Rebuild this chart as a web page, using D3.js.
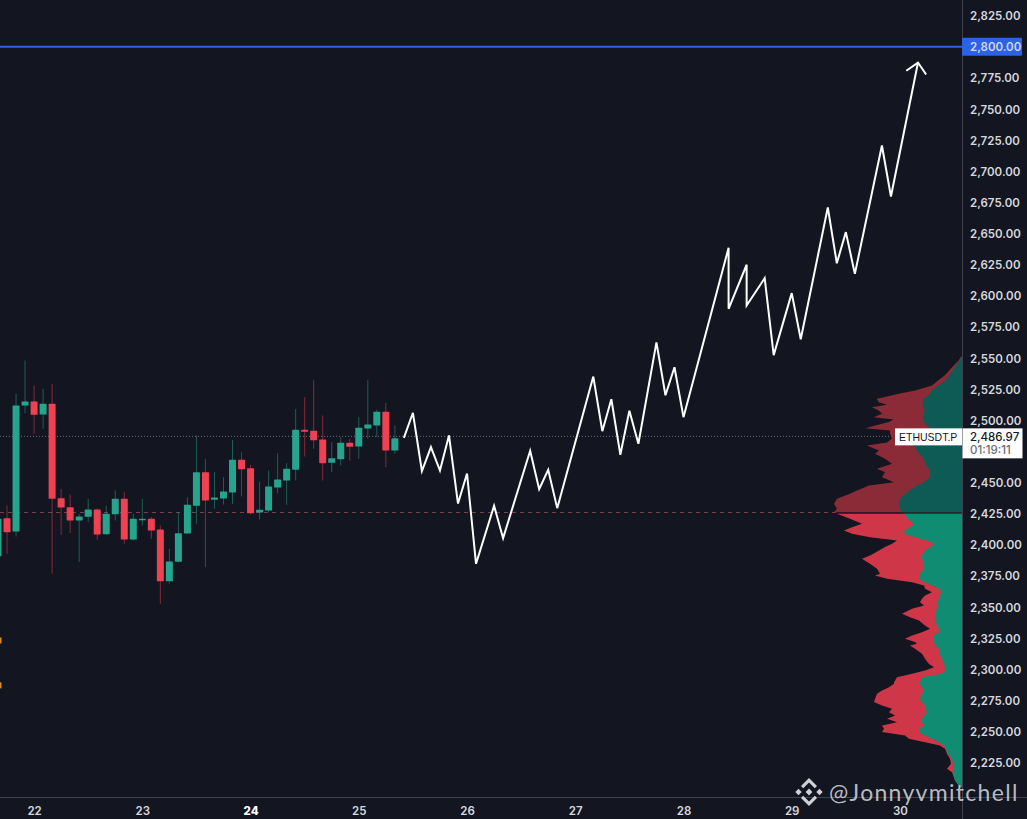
<!DOCTYPE html>
<html><head><meta charset="utf-8">
<script src="https://d3js.org/d3.v7.min.js"></script>
<style>
html,body{margin:0;padding:0;background:#131621;overflow:hidden}
svg{display:block}
text{font-family:Inter,"Liberation Sans",sans-serif}
</style></head><body>
<svg id="c" width="1027" height="819"></svg>
<script>
// Candles: one per 2 hours, bar 0 is the first bar at the left edge
const candleOpen=[2390.7,2421.2,2410.5,2511.7,2515,2504.5,2513.1,2437.3,2430,2419.4,2422.4,2428.2,2408.4,2424.4,2436.8,2404.1,2420.2,2420.7,2412.2,2370.6,2386.2,2409,2431.2,2458.2,2436,2437,2441.9,2468.1,2461.4,2425.8,2427.4,2445.9,2451.5,2460.1,2492.2,2491.4,2484.4,2465.7,2468.6,2481.8,2478.8,2493.3,2495.7,2506.7,2475.6];
const candleHigh=[2425,2431.4,2521.1,2547.9,2527.8,2525.2,2529.2,2444.8,2440.3,2424.8,2436.8,2429,2431.4,2443.5,2442.1,2424.8,2436.8,2422,2415.4,2396.6,2426,2438,2487.7,2469,2458.2,2454.2,2484.2,2474.2,2464.1,2450.7,2459.5,2473.4,2465.4,2509,2518.4,2532.4,2503.7,2482.3,2486.3,2485,2502.4,2532.4,2508.3,2513.9,2495.7];
const candleLow=[2384.8,2392.6,2406.5,2505.6,2489,2493,2376.8,2407.9,2409.2,2385.9,2418,2403.9,2407.9,2419.4,2400.7,2403.3,2415.4,2404.7,2352.5,2368.5,2385.7,2408.7,2416.7,2381.9,2428.8,2432.2,2432.8,2438.7,2424.2,2420.2,2426,2441.3,2432,2451.5,2470.8,2477,2451.5,2458.2,2463.6,2467.6,2469,2485,2486.3,2462.2,2473];
const candleClose=[2420.7,2410,2511.7,2515,2504.3,2513.1,2436.8,2429.8,2419.4,2422.6,2428.2,2408.1,2424.8,2436.8,2404.1,2420.7,2420.7,2411.3,2370.6,2386.5,2409.2,2432,2458.2,2435.4,2437.9,2442.7,2468.1,2460.6,2425.2,2428,2446.7,2452.3,2460.9,2492.2,2490.6,2483.9,2465.4,2469.4,2481.8,2478.6,2493.9,2496.5,2506.7,2475.6,2485.5];

// Hand-drawn projection
const projBars=[45,46,47,48,49,50,51,52,53,55,56,59,60,61,62,66,67,68,69,70,71,73,74,75,76,81,81,83,83,85,86,88,89,92,93,94,95,98,99,102];
const projPrice=[2485.8,2505.9,2459,2478.3,2459.5,2487.7,2433,2457.1,2384.6,2431.2,2405.2,2475.4,2444.5,2460.1,2429.3,2535,2491.1,2516.8,2472.2,2507.5,2481,2562.4,2520,2542.5,2502.4,2638.4,2589.4,2624.8,2592.1,2614,2552.2,2602,2565,2670.8,2626,2651,2617.5,2720.6,2679.6,2787.2];
const arrowBars=[100.7,102,102.9];
const arrowPrice=[2780.6,2787.2,2777.6];

// Volume profile rows
const vpPrice=[2551,2547.9,2543.9,2539.9,2535.8,2531.8,2527.8,2523.8,2521.1,2518.4,2517.1,2514.4,2512.3,2510.4,2507.7,2505.1,2502.4,2500.5,2498.4,2495.7,2493.5,2491.7,2489.3,2485.3,2482,2479.6,2475.6,2472.9,2468.9,2464.9,2460.9,2458.2,2454.2,2450.2,2447.5,2443.5,2440.8,2436.8,2432.8,2428.8,2426,2424.8,2420.7,2416.7,2414,2411.3,2408.7,2406,2403.3,2400.7,2398,2395.3,2391.3,2388.6,2384.6,2380.6,2376.6,2375.2,2372.5,2369.8,2367.2,2364.5,2361.8,2359.1,2356.5,2353.8,2351.1,2348.4,2345.7,2344.4,2341.7,2339,2335,2332.4,2329.7,2327,2324.3,2321.7,2320.3,2319,2316.3,2312.3,2308.3,2304.2,2301.6,2298.9,2296.2,2293.5,2289.5,2288.2,2285.5,2282.8,2280.2,2276.1,2273.5,2270.8,2268.1,2265.4,2262.8,2260.1,2257.4,2254.7,2252.1,2249.4,2246.7,2244,2241.3,2238.7,2236,2232,2228,2224,2220,2217.2,2210.5,2205.2];
const vpTotal=[1,3.3,8.3,12.7,17.3,24,30,46.7,63.3,78.3,85,83.3,75,90,83.3,80,88.3,68.3,73.3,86.7,96.7,72,72,70,75,95,83,87,77,70,85,77,80,68,93,105,112,125,128,125,128,125,112,100,110,118,110,92,65,70,77,83,92,100,92,85,82,87,75,50,38,37,30,37,40,42,38,50,57,60,52,43,37,32,40,50,57,47,45,52,47,40,37,33,28,37,50,65,68,68,73,80,85,87,88,80,70,73,67,75,65,80,78,80,57,53,37,22,17,15,12,11,15,10,7,2];
const vpGreen=[1,2.3,6,9.3,12.7,16.7,23.3,30.7,31.7,36.7,38.3,39.3,39.3,38.3,37.3,38.3,39.3,38.3,38.3,35,31.7,30.7,33,40,45,48,45,43,38,37,33,32,32,38,45,52,57,62,63,62,60,58,54,48,52,57,58,47,35,27,32,37,40,40,38,38,42,42,43,37,30,22,21,22,23,25,25,25,27,27,27,27,25,23,23,28,28,28,27,27,23,23,20,18,17,17,20,40,42,42,40,38,40,42,40,37,37,35,38,40,40,38,42,43,37,30,23,18,16,14,10,9,8,9,7,2];

// 2,475.00 sits behind the last-price box in the reference, so it is not listed
const priceTicks=[2225,2250,2275,2300,2325,2350,2375,2400,2425,2450,2500,2525,2550,2575,2600,2625,2650,2675,2700,2725,2750,2775,2800,2825];
const dayBars=[4,16,28,40,52,64,76,88,100];
const dayLabels=["22","23","24","25","26","27","28","29","30"];
const targetLevel=2800, lastPrice=2486.97, pocLevel=2425.8;
const edgeMarkPrice=[2323,2287];
const symbolName="ETHUSDT.P", countdown="01:19:11", handle="@Jonnyvmitchell";

const C={bg:"#131621",up:"#27a48d",down:"#ee4152",grid:"#3f424e",txt:"#d6d8de",
 vpUp:"#0f8c72",vpDown:"#cf3648",vpUpDim:"#0e5b55",vpDownDim:"#8b2b37",blue:"#2c62e6"};
const plotR=962, axisY=797;

const svg=d3.select("#c");
const x=d3.scaleLinear().domain([0,102]).range([-2,918]);
const y=d3.scaleLinear().domain([2825,2225]).range([15.5,762.5]);
const vw=d3.scaleLinear().domain([0,130]).range([plotR,plotR-130]);

// reference lines
const pl=svg.append("g");
pl.append("line").attr("x1",0).attr("x2",plotR).attr("y1",y(lastPrice)).attr("y2",y(lastPrice))
  .attr("stroke","#6b6d75").attr("stroke-width",1).attr("stroke-dasharray","1 2");
pl.append("line").attr("x1",0).attr("x2",840).attr("y1",y(pocLevel)).attr("y2",y(pocLevel))
  .attr("stroke","#74414c").attr("stroke-width",1).attr("stroke-dasharray","4 4");
pl.append("line").attr("x1",0).attr("x2",plotR).attr("y1",y(targetLevel)).attr("y2",y(targetLevel))
  .attr("stroke",C.blue).attr("stroke-width",2);
svg.append("g").selectAll("rect").data(edgeMarkPrice).join("rect")
  .attr("x",0).attr("width",1.5).attr("y",d=>y(d)-3).attr("height",6).attr("fill","#d98a2b");

// candles
const candles=candleOpen.map((o,i)=>({i,o,h:candleHigh[i],l:candleLow[i],c:candleClose[i]}));
const cg=svg.append("g").selectAll("g").data(candles).join("g");
cg.append("line").attr("x1",d=>x(d.i)).attr("x2",d=>x(d.i)).attr("y1",d=>y(d.h)).attr("y2",d=>y(d.l))
  .attr("stroke",d=>d.c>=d.o?C.up:C.down).attr("stroke-opacity",.5).attr("stroke-width",1);
cg.append("rect").attr("x",d=>x(d.i)-3.5).attr("width",7)
  .attr("y",d=>y(Math.max(d.o,d.c))).attr("height",d=>Math.max(1.5,Math.abs(y(d.o)-y(d.c))))
  .attr("rx",.6).attr("fill",d=>d.c>=d.o?C.up:C.down);

// projection
const ln=d3.line().x(d=>x(d[0])).y(d=>y(d[1]));
const pathG=svg.append("g").attr("fill","none").attr("stroke","#fff").attr("stroke-width",2).attr("stroke-linejoin","miter");
pathG.append("path").attr("d",ln(d3.zip(projBars,projPrice)));
pathG.append("path").attr("d",ln(d3.zip(arrowBars,arrowPrice)));

// volume profile
const rows=vpPrice.map((p,i)=>({p,t:vpTotal[i],g:vpGreen[i]}));
function profile(data,red,green){
  const a=d3.area().y(d=>y(d.p)).x1(plotR);
  svg.append("path").attr("fill",red).attr("d",a.x0(d=>vw(d.t))(data));
  svg.append("path").attr("fill",green).attr("d",a.x0(d=>vw(d.g))(data));
}
profile(rows.filter(d=>d.p>=pocLevel),C.vpDownDim,C.vpUpDim);
profile(rows.filter(d=>d.p<=pocLevel),C.vpDown,C.vpUp);

// axes
const ya=svg.append("g").attr("transform",`translate(${plotR},0.5)`)
  .call(d3.axisRight(y).tickValues(priceTicks).tickFormat(d3.format(",.2f")).tickSize(0).tickPadding(8));
ya.select(".domain").remove();
const xa=svg.append("g").attr("transform",`translate(0,${axisY})`)
  .call(d3.axisBottom(x).tickValues(dayBars).tickFormat((d,i)=>dayLabels[i]).tickSize(0).tickPadding(10));
xa.select(".domain").remove();
svg.append("line").attr("x1",0).attr("x2",1027).attr("y1",axisY+.5).attr("y2",axisY+.5).attr("stroke",C.grid);
svg.append("line").attr("x1",plotR+.5).attr("x2",plotR+.5).attr("y1",0).attr("y2",819).attr("stroke",C.grid);
ya.selectAll("text").attr("fill",C.txt).style("font-size","11.5px").style("font-weight",600).style("font-family","Inter").attr("text-anchor","start");
xa.selectAll("text").attr("fill",C.txt).style("font-size","11.5px").style("font-weight",600).style("font-family","Inter");
xa.selectAll("text").filter(d=>d===28).attr("fill","#fff").style("font-weight",800);

// target label
svg.append("rect").attr("x",plotR).attr("y",y(targetLevel)-9).attr("width",60).attr("height",18).attr("rx",1).attr("fill",C.blue);
ya.selectAll(".tick").filter(d=>d===targetLevel).raise();
ya.raise();

// last price label
const ly=y(lastPrice);
svg.append("rect").attr("x",895).attr("y",ly-8).attr("width",plotR-895).attr("height",17).attr("fill","#fff");
svg.append("rect").attr("x",plotR+.5).attr("y",ly-8).attr("width",60).attr("height",30).attr("fill","#fff");
svg.append("text").attr("x",899).attr("y",ly+.5).attr("dy",".36em").attr("fill","#131722")
  .style("font-size","10.5px").style("font-family","'Liberation Sans'").text(symbolName);
svg.append("text").attr("x",plotR+8).attr("y",ly+.5).attr("dy",".36em").attr("fill","#131722")
  .style("font-size","11.5px").style("font-weight",500).text(d3.format(",.2f")(lastPrice));
svg.append("text").attr("x",plotR+8).attr("y",ly+14).attr("dy",".36em").attr("fill","#6a6d78")
  .style("font-size","11.5px").style("font-weight",500).text(countdown);

// watermark
const wm=svg.append("g").attr("transform","translate(809,792)").attr("fill","#cfd1d6");
const dia=(cx,cy,r)=>`M${cx-r},${cy}L${cx},${cy-r}L${cx+r},${cy}L${cx},${cy+r}Z`;
wm.append("path").attr("d",dia(0,0,3.4)+dia(-10.5,0,3.2)+dia(10.5,0,3.2));
wm.append("path").attr("d","M0,-14L8,-6L5.8,-3.8L0,-9.6L-5.8,-3.8L-8,-6Z");
wm.append("path").attr("d","M0,14L8,6L5.8,3.8L0,9.6L-5.8,3.8L-8,6Z");
svg.append("text").attr("x",829).attr("y",801).attr("fill","#cfd1d6").attr("fill-opacity",.9)
  .style("font-family","Lato").style("font-size","23px").style("letter-spacing","1.3px").text(handle);
</script></body></html>
